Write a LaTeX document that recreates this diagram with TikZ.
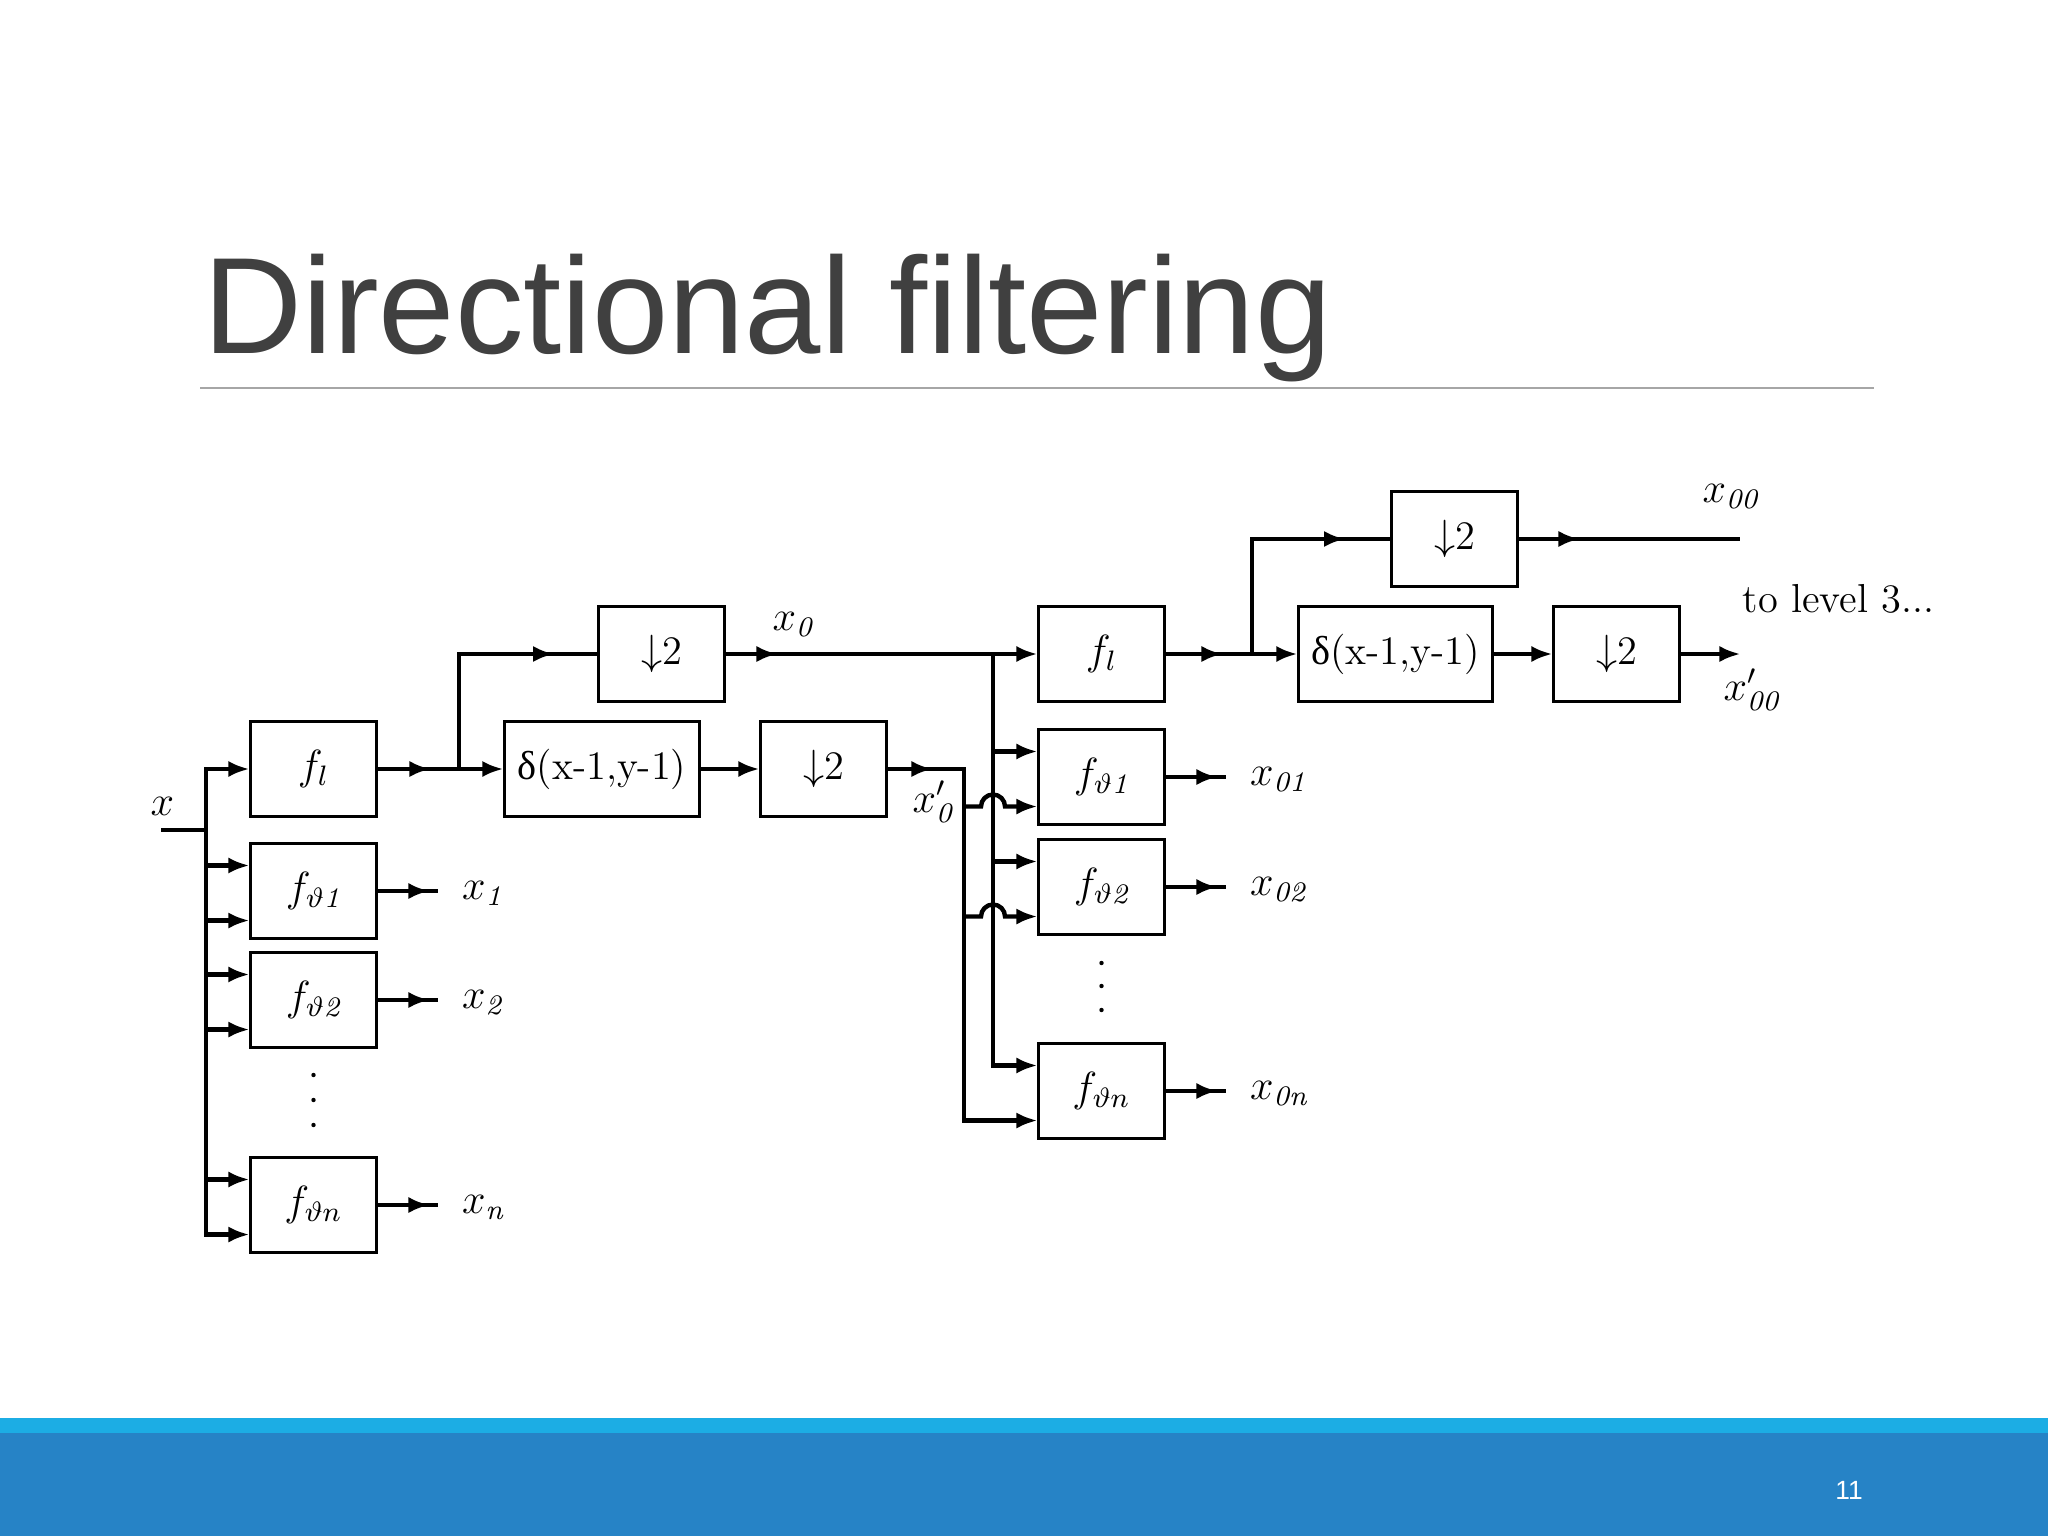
\documentclass[tikz,border=0pt]{standalone}
\usepackage{amsmath,amssymb}
\usepackage{fontspec}
\newfontfamily\titlefont{Liberation Sans}
\newfontfamily\grkfont{Liberation Serif}
\usepackage{tikz}
\usetikzlibrary{arrows.meta, decorations.markings, calc}

\definecolor{slidegray}{HTML}{404040}
\definecolor{rulegray}{HTML}{A6A6A6}
\definecolor{barlight}{HTML}{1CADE4}
\definecolor{bardark}{HTML}{2683C6}

\begin{document}
\begin{tikzpicture}[x=0.01cm, y=-0.01cm, font=\fontsize{11.5}{13}\selectfont,
    >={Latex[length=6pt,width=4.6pt]},
    blk/.style={draw, line width=0.85pt, minimum width=1.25cm, minimum height=0.94cm, inner sep=0pt},
    wire/.style={line width=1.25pt},
    midarr/.style={postaction={decorate}, decoration={markings, mark=at position #1 with {\arrow{>}}}},
    lbl/.style={anchor=base west, inner sep=0pt}]
    \useasboundingbox (0,0) rectangle (2048,1536);
    \fill[white] (0,0) rectangle (2048,1536);

    % slide frame
    \node[anchor=base west, inner sep=0pt, text=slidegray, font=\titlefont\fontsize{39}{46}\selectfont] (title) at (203,353) {Directional filtering};
    \draw[rulegray, line width=0.6pt] (200,388) -- (1874,388);
    \fill[barlight] (0,1418) rectangle (2048,1434);
    \fill[bardark] (0,1433) rectangle (2048,1536);
    \node[text=white, font=\titlefont\fontsize{7.5}{9}\selectfont] (pg) at (1849,1490) {11};

    % level 1
    \node[blk] (fl1) at (313.5,769) {$f_l$};
    \node[blk] (fa1) at (313.5,891) {$f_{\vartheta\mathit{1}}$};
    \node[blk] (fb1) at (313.5,1000) {$f_{\vartheta\mathit{2}}$};
    \node[blk] (fn1) at (313.5,1205) {$f_{\vartheta n}$};
    \foreach \y in {1075,1100,1125} \fill (313.5,\y) circle[radius=0.022cm];

    \node[blk] (dsa) at (661.5,654) {$\downarrow$2};
    \node[blk, minimum width=1.94cm] (dla) at (602,769) {{\grkfont δ}(x-1,y-1)};
    \node[blk] (dsb) at (823.5,769) {$\downarrow$2};

    % level 2
    \node[blk] (fl2) at (1101.5,654) {$f_l$};
    \node[blk] (fa2) at (1101.5,777) {$f_{\vartheta\mathit{1}}$};
    \node[blk] (fb2) at (1101.5,887) {$f_{\vartheta\mathit{2}}$};
    \node[blk] (fn2) at (1101.5,1091) {$f_{\vartheta n}$};
    \foreach \y in {963,986,1010} \fill (1101.5,\y) circle[radius=0.022cm];

    \node[blk] (dsc) at (1454.5,539) {$\downarrow$2};
    \node[blk, minimum width=1.93cm] (dlb) at (1395.5,654) {{\grkfont δ}(x-1,y-1)};
    \node[blk] (dsd) at (1616.5,654) {$\downarrow$2};

    \foreach \b/\t in {fa1/1, fb1/2, fn1/n, fa2/01, fb2/02, fn2/0n} {
        \coordinate (\b-i1) at ($(\b.north west)+(0,23)$);
        \coordinate (\b-i2) at ($(\b.south west)+(0,-19)$);
        \draw[wire, midarr=-0.08cm] (\b.east) -- ++(60,0) coordinate (\b-o);
        \node[lbl] (\b-lab) at ($(\b.east)+(84,8)$) {$x_{\mathit{\t}}$};
    }

    % input bus
    \coordinate (xin) at (161,830);
    \coordinate (busA) at (206,769);
    \node[lbl] (lx) at (150,815) {$x$};
    \draw[wire] (xin) -- (xin -| busA);
    \draw[wire,->] (busA |- fn1-i2) |- (fl1.west);
    \draw[wire,->] (busA) |- (fn1-i2);
    \foreach \b in {fa1-i1, fa1-i2, fb1-i1, fb1-i2, fn1-i1}
        \draw[wire,->] (busA |- \b) -- (\b);

    \coordinate (brA) at (459,769);
    \draw[wire, midarr=0.53cm] (fl1.east) -- (brA);
    \draw[wire,->] (brA) -- (dla.west);
    \draw[wire, midarr=2.1cm] (brA) |- (dsa.west);
    \draw[wire,->] (dla.east) -- (dsb.west);

    % x0 and x0'
    \draw[wire, midarr=0.52cm, ->] (dsa.east) -- (fl2.west);
    \node[lbl] (lx0) at (772,630) {$x_{\mathit{0}}$};
    \coordinate (busB) at (993,654);
    \draw[wire,->] (busB) |- (fn2-i1);
    \foreach \b in {fa2-i1, fb2-i1}
        \draw[wire,->] (busB |- \b) -- (\b);

    \coordinate (xpB) at (964,769);
    \node[lbl] (lx0p) at (912,812) {$x'_{\mathit{0}}$};
    \draw[wire, midarr=0.45cm, ->] (dsb.east) -- (xpB) |- (fn2-i2);
    \foreach \b in {fa2-i2, fb2-i2}
        \draw[wire,->] (xpB |- \b) -- ++(17,0) arc[start angle=180, end angle=0, radius=0.12cm] -- (\b);

    % to level 3
    \coordinate (brB) at (1252,654);
    \draw[wire, midarr=0.57cm] (fl2.east) -- (brB);
    \draw[wire,->] (brB) -- (dlb.west);
    \draw[wire, midarr=2.08cm] (brB) |- (dsc.west);
    \draw[wire,->] (dlb.east) -- (dsd.west);
    \draw[wire, midarr=0.61cm] (dsc.east) -- ++(221,0) coordinate (o00);
    \draw[wire,->] (dsd.east) -- ++(60,0) coordinate (o00p);
    \node[lbl] (lx00) at (1702,502) {$x_{\mathit{00}}$};
    \node[lbl] (lx00p) at (1723,700) {$x'_{\mathit{00}}$};
    \node[lbl] (lvl) at (1742,612) {to level 3...};
\end{tikzpicture}
\end{document}
